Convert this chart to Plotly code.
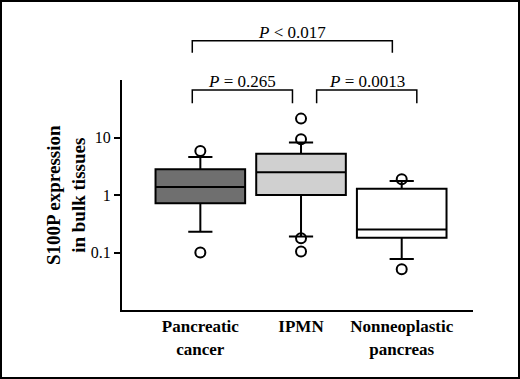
import plotly.graph_objects as go

# ---- data ----
categories = ["Pancreatic cancer", "IPMN", "Nonneoplastic pancreas"]
tick_labels = ["<b>Pancreatic<br>cancer</b>", "<b>IPMN</b>", "<b>Nonneoplastic<br>pancreas</b>"]
q1 = [0.72, 1.0, 0.18]
medians = [1.38, 2.48, 0.25]
q3 = [2.8, 5.2, 1.29]
lower_whisker = [0.23, 0.19, 0.077]
upper_whisker = [4.6, 8.2, 1.75]
outlier_group = [0, 0, 1, 1, 1, 1, 2, 2]
outlier_values = [5.8, 0.1, 21.3, 9.3, 0.177, 0.104, 1.88, 0.051]
y_tick_values = [0.1, 1, 10]
y_tick_labels = ["0.1", "1", "10"]
comparisons = [
    {"text": "<i>P</i> = 0.265", "x0": -0.08, "x1": 0.915, "level": "low"},
    {"text": "<i>P</i> = 0.0013", "x0": 1.155, "x1": 2.15, "level": "low"},
    {"text": "<i>P</i> < 0.017", "x0": -0.08, "x1": 1.907, "level": "high"},
]

# ---- style ----
FONT = "Liberation Serif"
fills = ["#6f6f6f", "#d0d0d0", "#ffffff"]
W, H = 520, 379
L, R, T, B = 122, 47, 80, 69
PW, PH = W - L - R, H - T - B

def px_to_paper_y(py):
    return (H - B - py) / PH

def px_to_paper_x(px):
    return (px - L) / PW

fig = go.Figure()
for i, cat in enumerate(categories):
    fig.add_trace(go.Box(
        x=[i], q1=[q1[i]], median=[medians[i]], q3=[q3[i]],
        lowerfence=[lower_whisker[i]], upperfence=[upper_whisker[i]],
        name=cat, width=0.89, whiskerwidth=0.27,
        fillcolor=fills[i], line=dict(color="black", width=2),
        boxpoints=False, showlegend=False, hoverinfo="skip",
    ))

fig.add_trace(go.Scatter(
    x=outlier_group, y=outlier_values, mode="markers",
    marker=dict(symbol="circle-open", size=10, color="black", line=dict(width=2, color="black")),
    showlegend=False, hoverinfo="skip",
))

shapes = []
annotations = []
levels = {"low": (90, 103.3, 82), "high": (40.7, 52.7, 32)}
for c in comparisons:
    top_px, leg_px, text_px = levels[c["level"]]
    yt, yl = px_to_paper_y(top_px), px_to_paper_y(leg_px)
    path = f"M {c['x0']},{yl} L {c['x0']},{yt} L {c['x1']},{yt} L {c['x1']},{yl}"
    shapes.append(dict(type="path", xref="x", yref="paper", path=path,
                       line=dict(color="black", width=1.5)))
    annotations.append(dict(x=(c["x0"] + c["x1"]) / 2, y=px_to_paper_y(text_px),
                            xref="x", yref="paper", text=c["text"], showarrow=False,
                            xanchor="center", yanchor="middle",
                            font=dict(family=FONT, size=17, color="black")))

# y axis title
annotations.append(dict(x=px_to_paper_x(66), y=0.5, xref="paper", yref="paper",
                        text="<b>S100P expression<br>in bulk tissues</b>", textangle=-90,
                        showarrow=False, xanchor="center", yanchor="middle",
                        font=dict(family=FONT, size=19, color="black")))

# outer frame
shapes.append(dict(type="rect", xref="paper", yref="paper",
                   x0=px_to_paper_x(1), x1=px_to_paper_x(519),
                   y0=px_to_paper_y(378), y1=px_to_paper_y(1),
                   line=dict(color="black", width=2)))

fig.update_layout(
    width=W, height=H, margin=dict(l=L, r=R, t=T, b=B, autoexpand=False),
    paper_bgcolor="white", plot_bgcolor="white",
    font=dict(family=FONT, color="black"),
    shapes=shapes, annotations=annotations,
    xaxis=dict(range=[-0.778, 2.708], tickvals=[0, 1, 2], ticktext=tick_labels,
               showgrid=False, zeroline=False, showline=True, linecolor="black", linewidth=2,
               ticks="", tickfont=dict(family=FONT, size=17, color="black")),
    yaxis=dict(type="log", range=[-2, 2], tickvals=y_tick_values, ticktext=y_tick_labels,
               showgrid=False, zeroline=False, showline=True, linecolor="black", linewidth=2,
               ticks="outside", ticklen=6, tickwidth=2, tickcolor="black",
               tickfont=dict(family=FONT, size=16, color="black")),
)

fig.write_html("out.html")
